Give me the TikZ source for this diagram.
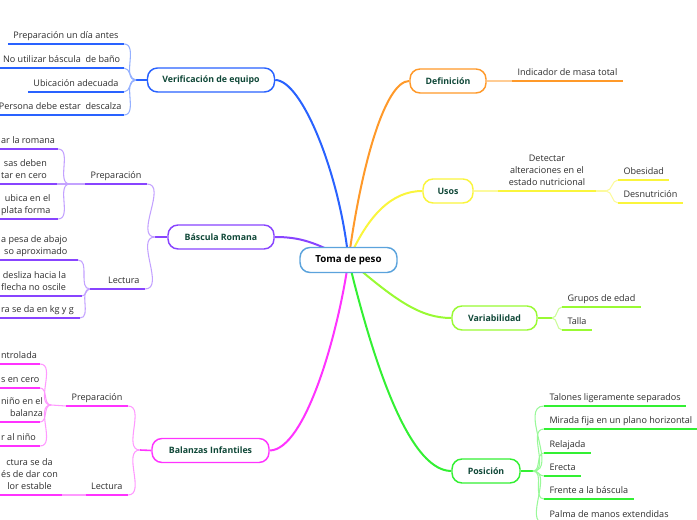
\documentclass[tikz,border=0pt]{standalone}
\usepackage{fontspec}
\setmainfont{Open Sans}
\pgfdeclarelayer{bg}
\pgfsetlayers{bg,main}

\definecolor{cBlue}{RGB}{41,98,255}
\definecolor{cOrange}{RGB}{255,153,41}
\definecolor{cYellow}{RGB}{250,245,60}
\definecolor{cLime}{RGB}{153,250,51}
\definecolor{cGreen}{RGB}{51,240,51}
\definecolor{cMagenta}{RGB}{255,51,255}
\definecolor{cPurple}{RGB}{136,68,255}
\definecolor{cCenter}{RGB}{91,163,220}
\definecolor{cLabel}{RGB}{16,72,56}
\definecolor{cText}{RGB}{45,45,45}

\tikzset{every picture/.style={line width=0.75pt}}

\begin{document}
\begin{tikzpicture}[x=0.75pt,y=0.75pt,yscale=-1,xscale=1,
  topic/.style={draw=#1, line width=1.1pt, rounded corners=7.5pt, fill=white,
    minimum height=18pt, inner sep=0pt, text=cLabel,
    font=\fontsize{6.6}{8}\selectfont\bfseries},
  leaf/.style={inner xsep=3.75pt, inner ysep=2pt, text depth=1.8pt, text=cText,
    font=\fontsize{6.8}{9}\selectfont},
  leafR/.style={leaf, anchor=south west},
  leafL/.style={leaf, anchor=south east},
  leafC/.style={leaf, anchor=south west, inner xsep=0.5pt},
  uline/.style={draw=#1, line width=1.5pt},
  branch/.style={draw=#1, line width=1.5pt},
  stub/.style={draw=#1, line width=1.2pt},
  twig/.style={draw=#1!50, line width=0.8pt},
]
\useasboundingbox (0,0) rectangle (697,520);
\clip (0,0) rectangle (697,520);

% Central topic
\node[topic=cCenter, text=black, minimum width=72.75pt, minimum height=18.75pt,
  font=\fontsize{7.3}{9}\selectfont\bfseries] (toma) at (348.5,260) {Toma de peso};

% Main topics
\node[topic=cBlue, minimum width=95.25pt] (verif) at (211,80) {Verificación de equipo};
\node[topic=cOrange, minimum width=57pt] (defin) at (448,81) {Definición};
\node[topic=cYellow, minimum width=37.5pt] (usos) at (448,191) {Usos};
\node[topic=cPurple, minimum width=79.5pt] (bascula) at (221,237) {Báscula Romana};
\node[topic=cLime, minimum width=63.75pt] (variab) at (494.5,318) {Variabilidad};
\node[topic=cMagenta, minimum width=87.75pt] (balanzas) at (210.5,450.5) {Balanzas Infantiles};
\node[topic=cGreen, minimum width=51pt] (posicion) at (486,471) {Posición};

% Verificación de equipo
\coordinate (vfork) at (136,80);
\node[leafL] (v1) at (124,44) {Preparación un día antes};
\node[leafL, inner xsep=2.5pt] (v2) at (124,68) {No utilizar báscula~ de baño};
\node[leafL] (v3) at (124,92) {Ubicación adecuada};
\node[leafL, inner xsep=1.5pt] (v4) at (124,115) {Persona debe estar~ descalza};

% Definición
\node[leafR] (d1) at (512,81) {Indicador de masa total};

% Usos
\node[leafR, align=center, minimum width=72.75pt] (u1) at (498,191) {Detectar\\alteraciones en el\\estado nutricional};
\coordinate (ufork) at (606,191);
\node[leafR] (u2) at (618,180) {Obesidad};
\node[leafR] (u3) at (618,203) {Desnutrición};

% Báscula Romana
\coordinate (bfork) at (155,237);
\node[leafL] (bprep) at (147,184) {Preparación};
\node[leafL, text width=33pt, align=right] (blect) at (145,289) {Lectura};
\coordinate (bpfork) at (70,184);
\node[leafC] (bp1) at (0,149) {ar la romana};
\node[leafC, align=right] (bp2) at (0,184) {sas deben\\tar en cero};
\node[leafC, align=right] (bp3) at (0,219) {ubica en el\\plata forma};
\node[leafC, align=right] (bl1) at (0,260) {a pesa de abajo\\so aproximado};
\node[leafC, align=right] (bl2) at (0,296) {desliza hacia la\\flecha no oscile};
\node[leafC] (bl3) at (0,318) {ra se da en kg y g};
\coordinate (bp1e) at (58,149);
\coordinate (bp2e) at (57,184);
\coordinate (bp3e) at (58,219);
\coordinate (bl1e) at (78,260);
\coordinate (bl2e) at (82,296);
\coordinate (bl3e) at (80,318);

% Variabilidad
\coordinate (afork) at (552,318);
\node[leafR] (a1) at (562,307) {Grupos de edad};
\node[leafR] (a2) at (562,330) {Talla};

% Balanzas Infantiles
\coordinate (zfork) at (140,450);
\node[leafL] (zprep) at (128,406) {Preparación};
\node[leafL] (zlect) at (128,495) {Lectura};
\coordinate (zpfork) at (51,405);
\node[leafC] (zp1) at (0,364) {ntrolada};
\node[leafC] (zp2) at (0,388) {s en cero};
\node[leafC, align=right] (zp3) at (0,422) {niño en el\\balanza};
\node[leafC] (zp4) at (0,446) {r al niño};
\node[leafC, align=center] (zl1) at (0,495) {ctura se da\\és de dar con\\lor estable};
\coordinate (zp1e) at (40,364);
\coordinate (zp2e) at (40,388);
\coordinate (zp3e) at (40,422);
\coordinate (zp4e) at (40,446);
\coordinate (zl1e) at (62,495);

% Posición
\coordinate (pfork) at (533,471);
\node[leafR] (p1) at (544,406) {Talones ligeramente separados};
\node[leafR] (p2) at (544,429) {Mirada fija en un plano horizontal};
\node[leafR] (p3) at (544,453) {Relajada};
\node[leafR] (p4) at (544,476) {Erecta};
\node[leafR] (p5) at (544,499) {Frente a la báscula};
\node[leafR] (p6) at (544,523) {Palma de manos extendidas};

% Underlines
\draw[uline=cBlue] (v1.south west) -- (v1.south east);
\draw[uline=cBlue] (v2.south west) -- (v2.south east);
\draw[uline=cBlue] (v3.south west) -- (v3.south east);
\draw[uline=cBlue] (v4.south west) -- (v4.south east);
\draw[uline=cOrange] (d1.south west) -- (d1.south east);
\draw[uline=cYellow] (u1.south west) -- (u1.south east);
\draw[uline=cYellow] (u2.south west) -- (u2.south east);
\draw[uline=cYellow] (u3.south west) -- (u3.south east);
\draw[uline=cPurple] (bprep.south west) -- (bprep.south east);
\draw[uline=cPurple] (blect.south west) -- (blect.south east);
\draw[uline=cPurple] (bp1.south west) -- (bp1e);
\draw[uline=cPurple] (bp2.south west) -- (bp2e);
\draw[uline=cPurple] (bp3.south west) -- (bp3e);
\draw[uline=cPurple] (bl1.south west) -- (bl1e);
\draw[uline=cPurple] (bl2.south west) -- (bl2e);
\draw[uline=cPurple] (bl3.south west) -- (bl3e);
\draw[uline=cLime] (a1.south west) -- (a1.south east);
\draw[uline=cLime] (a2.south west) -- (a2.south east);
\draw[uline=cMagenta] (zprep.south west) -- (zprep.south east);
\draw[uline=cMagenta] (zlect.south west) -- (zlect.south east);
\draw[uline=cMagenta] (zp1.south west) -- (zp1e);
\draw[uline=cMagenta] (zp2.south west) -- (zp2e);
\draw[uline=cMagenta] (zp3.south west) -- (zp3e);
\draw[uline=cMagenta] (zp4.south west) -- (zp4e);
\draw[uline=cMagenta] (zl1.south west) -- (zl1e);
\draw[uline=cGreen] (p1.south west) -- (p1.south east);
\draw[uline=cGreen] (p2.south west) -- (p2.south east);
\draw[uline=cGreen] (p3.south west) -- (p3.south east);
\draw[uline=cGreen] (p4.south west) -- (p4.south east);
\draw[uline=cGreen] (p5.south west) -- (p5.south east);
\draw[uline=cGreen] (p6.south west) -- (p6.south east);

\begin{pgfonlayer}{bg}
% Main branches
\draw[branch=cBlue] (toma.center) .. controls (340,175) and (302,80) .. (verif.east);
\draw[branch=cOrange] (toma.center) .. controls (362,160) and (386,81) .. (defin.west);
\draw[branch=cYellow] (toma.center) .. controls (368,215) and (392,191) .. (usos.west);
\draw[branch=cPurple] (toma.center) .. controls (315,242) and (300,237) .. (bascula.east);
\draw[branch=cLime] (toma.center) .. controls (395,300) and (420,318) .. (variab.west);
\draw[branch=cGreen] (toma.center) .. controls (368,340) and (405,471) .. (posicion.west);
\draw[branch=cMagenta] (toma.center) .. controls (338,335) and (305,450) .. (balanzas.east);

% Verificación de equipo
\draw[stub=cBlue] (verif.west) -- (vfork);
\draw[twig=cBlue] (vfork) to[out=180,in=0] (v1.south east);
\draw[twig=cBlue] (vfork) to[out=180,in=0] (v2.south east);
\draw[twig=cBlue] (vfork) to[out=180,in=0] (v3.south east);
\draw[twig=cBlue] (vfork) to[out=180,in=0] (v4.south east);

% Definición
\draw[twig=cOrange] (defin.east) -- (d1.south west);

% Usos
\draw[twig=cYellow] (usos.east) -- (u1.south west);
\draw[twig=cYellow] (u1.south east) -- (ufork);
\draw[twig=cYellow] (ufork) to[out=0,in=180] (u2.south west);
\draw[twig=cYellow] (ufork) to[out=0,in=180] (u3.south west);

% Báscula Romana
\draw[stub=cPurple] (bascula.west) -- (bfork);
\draw[twig=cPurple] (bfork) to[out=180,in=0] (bprep.south east);
\draw[twig=cPurple] (bfork) to[out=180,in=0] (blect.south east);
\draw[twig=cPurple] (bprep.south west) -- (bpfork);
\draw[twig=cPurple] (bpfork) to[out=180,in=0] (bp1e);
\draw[twig=cPurple] (bpfork) to[out=180,in=0] (bp2e);
\draw[twig=cPurple] (bpfork) to[out=180,in=0] (bp3e);
\draw[twig=cPurple] (blect.south west) to[out=180,in=0] (bl1e);
\draw[twig=cPurple] (blect.south west) to[out=180,in=0] (bl2e);
\draw[twig=cPurple] (blect.south west) to[out=180,in=0] (bl3e);

% Variabilidad
\draw[stub=cLime] (variab.east) -- (afork);
\draw[twig=cLime] (afork) to[out=0,in=180] (a1.south west);
\draw[twig=cLime] (afork) to[out=0,in=180] (a2.south west);

% Balanzas Infantiles
\draw[stub=cMagenta] (balanzas.west) -- (zfork);
\draw[twig=cMagenta] (zfork) to[out=180,in=0] (zprep.south east);
\draw[twig=cMagenta] (zfork) to[out=180,in=0] (zlect.south east);
\draw[twig=cMagenta] (zprep.south west) -- (zpfork);
\draw[twig=cMagenta] (zpfork) to[out=180,in=0] (zp1e);
\draw[twig=cMagenta] (zpfork) to[out=180,in=0] (zp2e);
\draw[twig=cMagenta] (zpfork) to[out=180,in=0] (zp3e);
\draw[twig=cMagenta] (zpfork) to[out=180,in=0] (zp4e);
\draw[twig=cMagenta] (zlect.south west) -- (zl1e);

% Posición
\draw[stub=cGreen] (posicion.east) -- (pfork);
\draw[twig=cGreen] (pfork) to[out=0,in=180] (p1.south west);
\draw[twig=cGreen] (pfork) to[out=0,in=180] (p2.south west);
\draw[twig=cGreen] (pfork) to[out=0,in=180] (p3.south west);
\draw[twig=cGreen] (pfork) to[out=0,in=180] (p4.south west);
\draw[twig=cGreen] (pfork) to[out=0,in=180] (p5.south west);
\draw[twig=cGreen] (pfork) to[out=0,in=180] (p6.south west);
\end{pgfonlayer}

\end{tikzpicture}
\end{document}
